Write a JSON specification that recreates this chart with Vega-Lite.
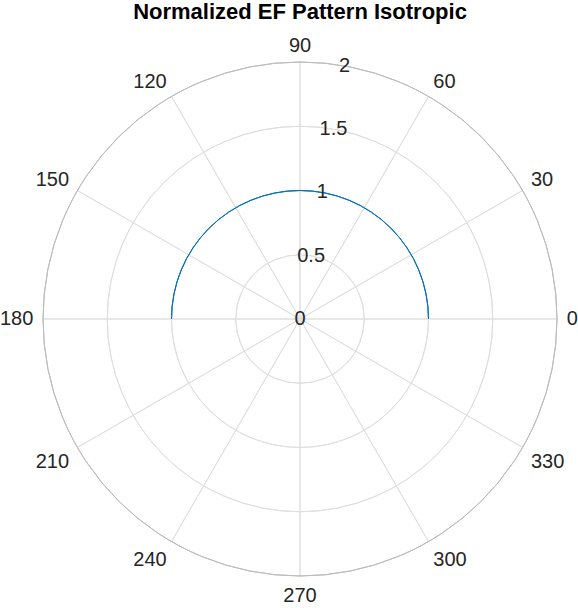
{
  "$schema": "https://vega.github.io/schema/vega-lite/v6.json",
  "description": "Normalized EF pattern, isotropic, drawn as a MATLAB style polar plot.",
  "width": 556,
  "height": 578,
  "autosize": "none",
  "padding": {"left": 22, "top": 30, "right": 0, "bottom": 0},
  "background": "white",
  "title": {
    "text": "Normalized EF Pattern Isotropic",
    "font": "Liberation Sans",
    "fontSize": 22,
    "fontWeight": "bold",
    "color": "#000000",
    "anchor": "middle",
    "frame": "group",
    "baseline": "alphabetic",
    "offset": 12,
    "dy": 23
  },
  "config": {"view": {"stroke": null}},
  "datasets": {
    "pattern": [{"series": "Isotropic", "from": 0, "to": 180, "r": 1}],
    "rings": [{"r": 0.5}, {"r": 1}, {"r": 1.5}, {"r": 2}],
    "spokes": [
      {"a": 0, "label": "0"}, {"a": 30, "label": "30"}, {"a": 60, "label": "60"},
      {"a": 90, "label": "90"}, {"a": 120, "label": "120"}, {"a": 150, "label": "150"},
      {"a": 180, "label": "180"}, {"a": 210, "label": "210"}, {"a": 240, "label": "240"},
      {"a": 270, "label": "270"}, {"a": 300, "label": "300"}, {"a": 330, "label": "330"}
    ],
    "rticks": [
      {"r": 0, "label": "0"}, {"r": 0.5, "label": "0.5"}, {"r": 1, "label": "1"},
      {"r": 1.5, "label": "1.5"}, {"r": 2, "label": "2"}
    ]
  },
  "layer": [
    {
      "data": {"name": "spokes"},
      "mark": {"type": "arc", "filled": false, "stroke": "#dfdfdf", "strokeWidth": 1},
      "encoding": {
        "theta": {"field": "a", "type": "quantitative", "stack": null,
          "scale": {"type": "linear", "domain": [0, 360], "range": [1.5707963267949, -4.71238898038469]}},
        "theta2": {"field": "a"},
        "radius": {"datum": 2, "type": "quantitative",
          "scale": {"type": "linear", "domain": [0, 2], "range": [0, 257], "zero": true, "nice": false}}
      }
    },
    {
      "data": {"name": "rings"},
      "mark": {"type": "arc", "filled": false, "strokeWidth": 1,
        "stroke": {"expr": "datum.r == 2 ? '#bcbcbc' : '#dfdfdf'"}},
      "encoding": {
        "theta": {"datum": 0, "type": "quantitative", "stack": null},
        "theta2": {"datum": 180},
        "radius": {"field": "r", "type": "quantitative"},
        "radius2": {"field": "r"}
      }
    },
    {
      "data": {"name": "rings"},
      "mark": {"type": "arc", "filled": false, "strokeWidth": 1,
        "stroke": {"expr": "datum.r == 2 ? '#bcbcbc' : '#dfdfdf'"}},
      "encoding": {
        "theta": {"datum": 180, "type": "quantitative", "stack": null},
        "theta2": {"datum": 360},
        "radius": {"field": "r", "type": "quantitative"},
        "radius2": {"field": "r"}
      }
    },
    {
      "data": {"name": "pattern"},
      "mark": {"type": "arc", "filled": false, "stroke": "#0072BD", "strokeWidth": 1},
      "encoding": {
        "theta": {"field": "from", "type": "quantitative", "stack": null},
        "theta2": {"field": "to"},
        "radius": {"field": "r", "type": "quantitative"},
        "radius2": {"field": "r"}
      }
    },
    {
      "data": {"name": "spokes"},
      "mark": {
        "type": "text",
        "font": "Liberation Sans",
        "fontSize": 20,
        "color": "#262626",
        "align": {"expr": "datum.a == 90 || datum.a == 270 ? 'center' : (datum.a < 90 || datum.a > 270 ? 'left' : 'right')"},
        "baseline": {"expr": "datum.a == 0 || datum.a == 180 ? 'middle' : (datum.a < 180 ? 'alphabetic' : 'top')"}
      },
      "encoding": {
        "theta": {"field": "a", "type": "quantitative", "stack": null},
        "radius": {"datum": 2.075, "type": "quantitative"},
        "text": {"field": "label"}
      }
    },
    {
      "data": {"name": "rticks"},
      "mark": {"type": "text", "font": "Liberation Sans", "fontSize": 20, "color": "#262626",
        "align": "center", "baseline": "middle"},
      "encoding": {
        "theta": {"datum": 80, "type": "quantitative", "stack": null},
        "radius": {"field": "r", "type": "quantitative"},
        "text": {"field": "label"}
      }
    }
  ]
}
